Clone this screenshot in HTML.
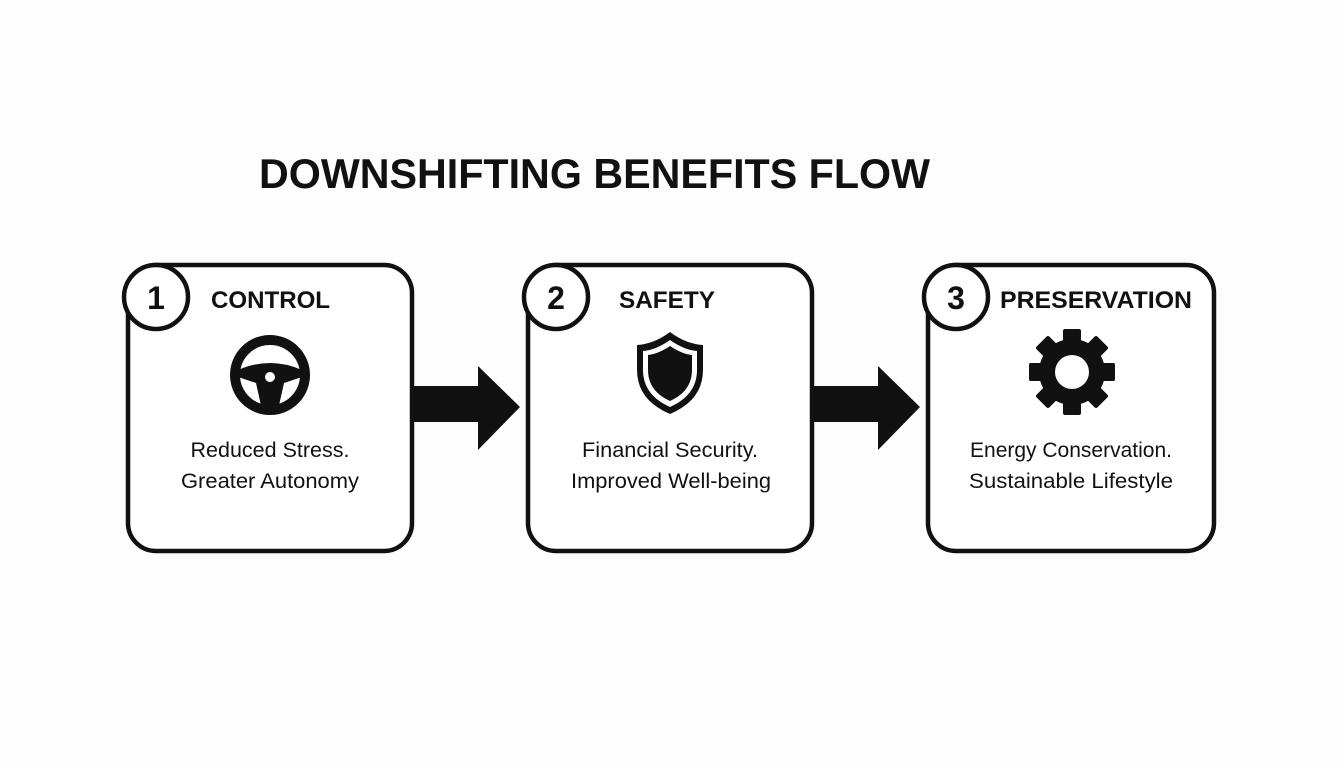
<!DOCTYPE html>
<html><head><meta charset="utf-8"><style>
html,body{margin:0;padding:0;background:#fdfdfd;}
svg{display:block;}
text{font-family:"Liberation Sans",sans-serif;fill:#111;}
</style></head><body>
<svg width="1344" height="768" viewBox="0 0 1344 768" xmlns="http://www.w3.org/2000/svg">
<rect width="1344" height="768" fill="#fdfdfd"/>
<text x="259" y="188" font-size="42" font-weight="bold" textLength="671" lengthAdjust="spacingAndGlyphs">DOWNSHIFTING BENEFITS FLOW</text>

<g fill="#fff" stroke="#111" stroke-width="4.5">
<rect x="128" y="265" width="284" height="286" rx="28"/>
<rect x="528" y="265" width="284" height="286" rx="28"/>
<rect x="928" y="265" width="286" height="286" rx="28"/>
<circle cx="156" cy="297" r="32"/>
<circle cx="556" cy="297" r="32"/>
<circle cx="956" cy="297" r="32"/>
</g>
<g font-size="32" font-weight="bold" text-anchor="middle">
<text x="156" y="309">1</text>
<text x="556" y="309">2</text>
<text x="956" y="309">3</text>
</g>
<g font-size="24" font-weight="bold">
<text x="211" y="308" textLength="119" lengthAdjust="spacingAndGlyphs">CONTROL</text>
<text x="619" y="308" textLength="96" lengthAdjust="spacingAndGlyphs">SAFETY</text>
<text x="1000" y="308" textLength="192" lengthAdjust="spacingAndGlyphs">PRESERVATION</text>
</g>

<polygon points="413,386 478,386 478,366 520,407 478,450 478,422 413,422" fill="#111"/>
<polygon points="813,386 878,386 878,366 920,407 878,450 878,422 813,422" fill="#111"/>

<circle cx="270" cy="375" r="35" fill="none" stroke="#111" stroke-width="10"/>
<path d="M238,370 Q270,356 302,370 L302,377 L284,383 L278,410 L262,410 L256,383 L238,377 Z" fill="#111"/>
<circle cx="270" cy="377" r="5" fill="#fff"/>

<path d="M670,332 Q686,344 703,345 L703,370 Q703,400 670,414 Q637,400 637,370 L637,345 Q654,344 670,332 Z" fill="#111"/>
<path d="M670,340 Q684,350 697,351 L697,370 Q697,395 670,407 Q643,395 643,370 L643,351 Q656,350 670,340 Z" fill="#fff"/>
<path d="M670,346 Q682,354 692,355 L692,370 Q692,391 670,401 Q648,391 648,370 L648,355 Q658,354 670,346 Z" fill="#111"/>

<g transform="translate(1072,372)" fill="#111">
<circle r="33"/>
<rect x="-9" y="-43" width="18" height="16" rx="2"/>
<rect x="-9" y="-43" width="18" height="16" rx="2" transform="rotate(45)"/>
<rect x="-9" y="-43" width="18" height="16" rx="2" transform="rotate(90)"/>
<rect x="-9" y="-43" width="18" height="16" rx="2" transform="rotate(135)"/>
<rect x="-9" y="-43" width="18" height="16" rx="2" transform="rotate(180)"/>
<rect x="-9" y="-43" width="18" height="16" rx="2" transform="rotate(225)"/>
<rect x="-9" y="-43" width="18" height="16" rx="2" transform="rotate(270)"/>
<rect x="-9" y="-43" width="18" height="16" rx="2" transform="rotate(315)"/>
<circle r="17" fill="#fff"/>
</g>

<g font-size="21" text-anchor="middle" fill="#222">
<text x="270" y="457" textLength="159" lengthAdjust="spacingAndGlyphs">Reduced Stress.</text>
<text x="270" y="488" textLength="178" lengthAdjust="spacingAndGlyphs">Greater Autonomy</text>
<text x="670" y="457" textLength="176" lengthAdjust="spacingAndGlyphs">Financial Security.</text>
<text x="671" y="488" textLength="200" lengthAdjust="spacingAndGlyphs">Improved Well-being</text>
<text x="1071" y="457" textLength="202" lengthAdjust="spacingAndGlyphs">Energy Conservation.</text>
<text x="1071" y="488" textLength="204" lengthAdjust="spacingAndGlyphs">Sustainable Lifestyle</text>
</g>
</svg>
</body></html>
